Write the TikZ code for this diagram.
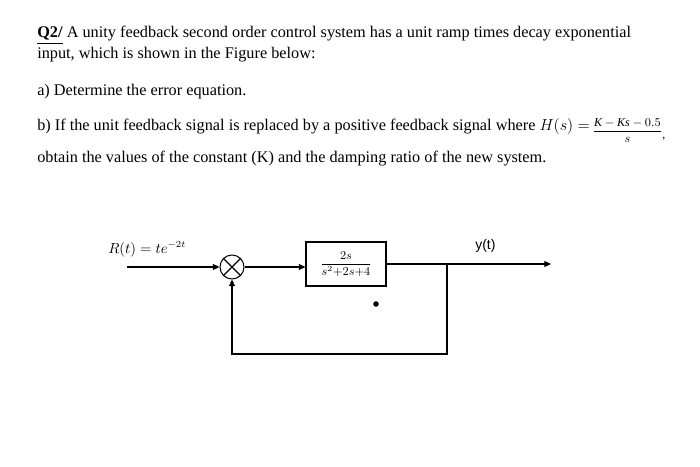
\documentclass[tikz,border=0pt]{standalone}
\usepackage{fontspec}
\setmainfont{Liberation Serif}
\setsansfont{Liberation Sans}
\usepackage{amsmath}
\usetikzlibrary{arrows.meta}
\begin{document}
\begin{tikzpicture}[x=0.75pt,y=-0.75pt,
  txt/.style={anchor=base west,inner sep=0pt,font=\fontsize{12.2}{14}\selectfont},
  blk/.style={draw,line width=0.8pt,minimum width=60pt,minimum height=33pt,inner sep=0pt},
  sig/.style={line width=0.8pt},
  arr/.style={sig,-{Triangle[length=5pt,width=4.5pt]}}]
\useasboundingbox (0,0) rectangle (700,467);
\node[txt] (l1) at (37,38) {\underline{\textbf{Q2/}} A unity feedback second order control system has a unit ramp times decay exponential};
\node[txt] (l2) at (37,59) {input, which is shown in the Figure below:};
\node[txt] (l3) at (37,95) {a) Determine the error equation.};
\node[txt] (l4) at (37,131) {b) If the unit feedback signal is replaced by a positive feedback signal where $H(s)=$};
\node[anchor=west,inner sep=0pt,font=\fontsize{9}{10}\selectfont] (fr) at (l4.base east) {\raisebox{3pt}{$\,\dfrac{\mathit{K-Ks}-0.5}{s}$},};
\node[txt] (l5) at (37,162) {obtain the values of the constant (K) and the damping ratio of the new system.};
\node[txt,font=\fontsize{10.5}{12}\selectfont] (rl) at (108,253) {$R(t)=te^{-2t}$};
\node[txt,font=\fontsize{10.5}{12}\selectfont\sffamily] (yl) at (475,249) {y(t)};
\coordinate (in) at (127,267);
\node[draw,circle,line width=0.8pt,minimum size=18pt,inner sep=0pt] (sum) at (232,267) {};
\draw[line width=0.8pt] (sum.north west)--(sum.south east) (sum.north east)--(sum.south west);
\node[blk] (g) at (346,264) {\fontsize{9}{10}\selectfont$\dfrac{2s}{s^2{+}2s{+}4}$};
\coordinate (out) at (551,264);
\coordinate (br) at (447,264);
\coordinate (bl) at (447,354);
\coordinate (bb) at (232,354);
\draw[arr] (in) -- (sum.west);
\draw[arr] (sum.east) -- (g.west|-sum.east);
\draw[arr] (g.east) -- (out);
\draw[arr] (br) -- (bl) -- (bb) -- (sum.south);
\fill (376,304) circle (2.8);
\end{tikzpicture}
\end{document}
